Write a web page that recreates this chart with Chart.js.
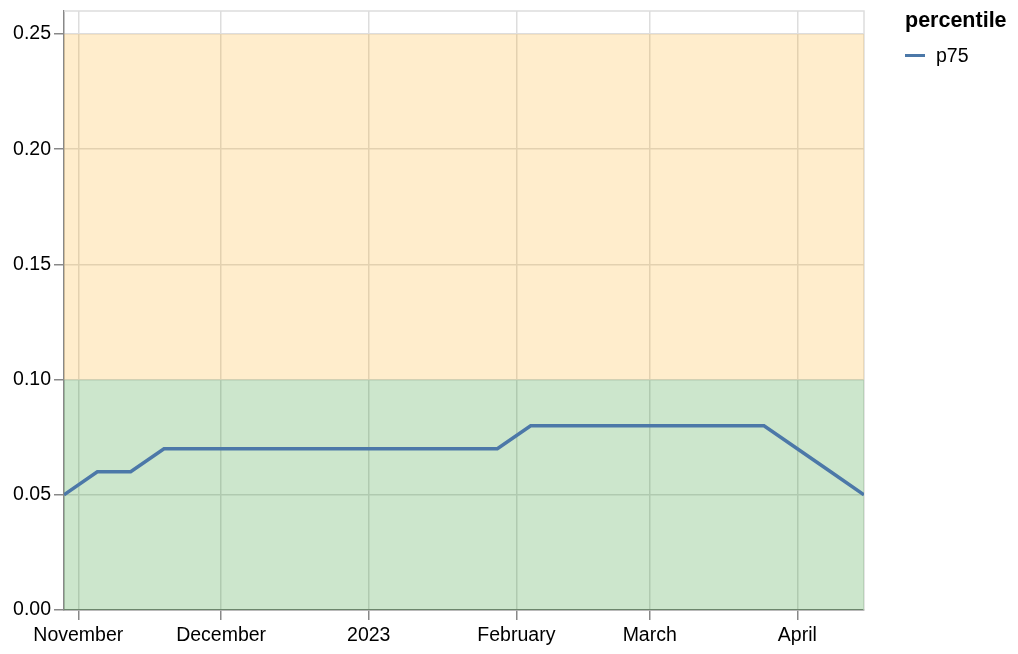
<!DOCTYPE html>
<html lang="en">
<head>
    <meta charset="UTF-8">
    <title>p75 by week</title>
    <script src="https://cdn.jsdelivr.net/npm/chart.js"></script>
    <style>
        body { margin: 0; background: #fff; font-family: "Liberation Sans", Helvetica, Arial, sans-serif; }
        #wrap { position: relative; width: 1018px; height: 654px; }
        #legend { position: absolute; left: 905px; top: 9px; color: #000; }
        #legend .title { font-weight: bold; font-size: 21.5px; line-height: 22px; }
        #legend .item { margin-top: 13px; font-size: 19.5px; line-height: 22px; display: flex; align-items: center; }
        #legend .swatch { width: 20px; height: 3px; margin-right: 11px; }
    </style>
</head>
<body>
    <div id="wrap">
        <canvas id="chart"></canvas>
        <div id="legend"></div>
    </div>

    <script>
        // weekly p75 values
        const weeks = [
            '2022-10-29', '2022-11-05', '2022-11-12', '2022-11-19', '2022-11-26',
            '2022-12-03', '2022-12-10', '2022-12-17', '2022-12-24', '2022-12-31',
            '2023-01-07', '2023-01-14', '2023-01-21', '2023-01-28', '2023-02-04',
            '2023-02-11', '2023-02-18', '2023-02-25', '2023-03-04', '2023-03-11',
            '2023-03-18', '2023-03-25', '2023-04-01', '2023-04-08', '2023-04-15'
        ];
        const p75 = [
            0.05, 0.06, 0.06, 0.07, 0.07,
            0.07, 0.07, 0.07, 0.07, 0.07,
            0.07, 0.07, 0.07, 0.07, 0.08,
            0.08, 0.08, 0.08, 0.08, 0.08,
            0.08, 0.08, 0.07, 0.06, 0.05
        ];
        const seriesName = 'p75';
        const legendTitle = 'percentile';

        const monthTicks = ['2022-11-01', '2022-12-01', '2023-01-01', '2023-02-01', '2023-03-01', '2023-04-01'];
        const monthLabels = ['November', 'December', '2023', 'February', 'March', 'April'];
        const yTicks = [0, 0.05, 0.10, 0.15, 0.20, 0.25];
        const yMax = 0.26;

        // threshold bands [from, to]
        const goodBand = [0, 0.10];
        const warnBand = [0.10, 0.25];

        const lineColor = '#4c78a8';
        const font = { family: '"Liberation Sans", Helvetica, Arial, sans-serif', size: 19.5 };

        const bandPlugin = {
            id: 'bands',
            beforeDatasetsDraw(chart) {
                const { ctx, chartArea, scales } = chart;
                const y = scales.y;
                const draw = (band, color) => {
                    const top = y.getPixelForValue(band[1]);
                    const bottom = y.getPixelForValue(band[0]);
                    ctx.fillStyle = color;
                    ctx.fillRect(chartArea.left, top, chartArea.right - chartArea.left, bottom - top);
                };
                ctx.save();
                // view border (top/right)
                ctx.strokeStyle = '#ddd';
                ctx.lineWidth = 1.5;
                ctx.beginPath();
                ctx.moveTo(chartArea.left, chartArea.top);
                ctx.lineTo(chartArea.right, chartArea.top);
                ctx.lineTo(chartArea.right, chartArea.bottom);
                ctx.stroke();
                draw(goodBand, 'rgba(0, 128, 0, 0.2)');
                draw(warnBand, 'rgba(255, 165, 0, 0.2)');
                ctx.restore();
            }
        };

        const noPad = scale => {
            scale.paddingTop = 0;
            scale.paddingBottom = 0;
            scale.paddingLeft = 0;
            scale.paddingRight = 0;
        };

        const points = weeks.map((d, i) => ({ x: Date.parse(d), y: p75[i] }));

        const ctx = document.getElementById('chart').getContext('2d');
        const chart = new Chart(ctx, {
            type: 'line',
            data: {
                datasets: [{
                    label: seriesName,
                    data: points,
                    borderColor: lineColor,
                    borderWidth: 3.5,
                    pointRadius: 0,
                    tension: 0,
                    fill: false
                }]
            },
            options: {
                responsive: true,
                maintainAspectRatio: false,
                animation: false,
                layout: { padding: { left: 0, top: 11, right: 154, bottom: 0 } },
                plugins: {
                    legend: { display: false },
                    tooltip: { enabled: false }
                },
                scales: {
                    x: {
                        type: 'linear',
                        min: Date.parse(weeks[0]),
                        max: Date.parse(weeks[weeks.length - 1]),
                        afterBuildTicks: scale => {
                            scale.ticks = monthTicks.map(d => ({ value: Date.parse(d) }));
                        },
                        afterFit: scale => { scale.height = 44; noPad(scale); },
                        ticks: {
                            callback: (value, index) => monthLabels[index],
                            color: '#000',
                            font,
                            padding: 4,
                            maxRotation: 0,
                            autoSkip: false
                        },
                        grid: { color: '#ddd', lineWidth: 1.5, tickColor: '#888', tickLength: 10 },
                        border: { color: '#888', width: 1.5 }
                    },
                    y: {
                        min: 0,
                        max: yMax,
                        afterBuildTicks: scale => {
                            scale.ticks = yTicks.map(v => ({ value: v }));
                        },
                        afterFit: scale => { scale.width = 64; noPad(scale); },
                        ticks: {
                            callback: value => value.toFixed(2),
                            color: '#000',
                            font,
                            padding: 3
                        },
                        grid: { color: '#ddd', lineWidth: 1.5, tickColor: '#888', tickLength: 10 },
                        border: { color: '#888', width: 1.5 }
                    }
                }
            },
            plugins: [bandPlugin]
        });

        // legend
        const legend = document.getElementById('legend');
        legend.innerHTML = `<div class="title">${legendTitle}</div>` +
            chart.data.datasets.map(ds =>
                `<div class="item"><span class="swatch" style="background:${ds.borderColor}"></span>${ds.label}</div>`
            ).join('');
    </script>
</body>
</html>
